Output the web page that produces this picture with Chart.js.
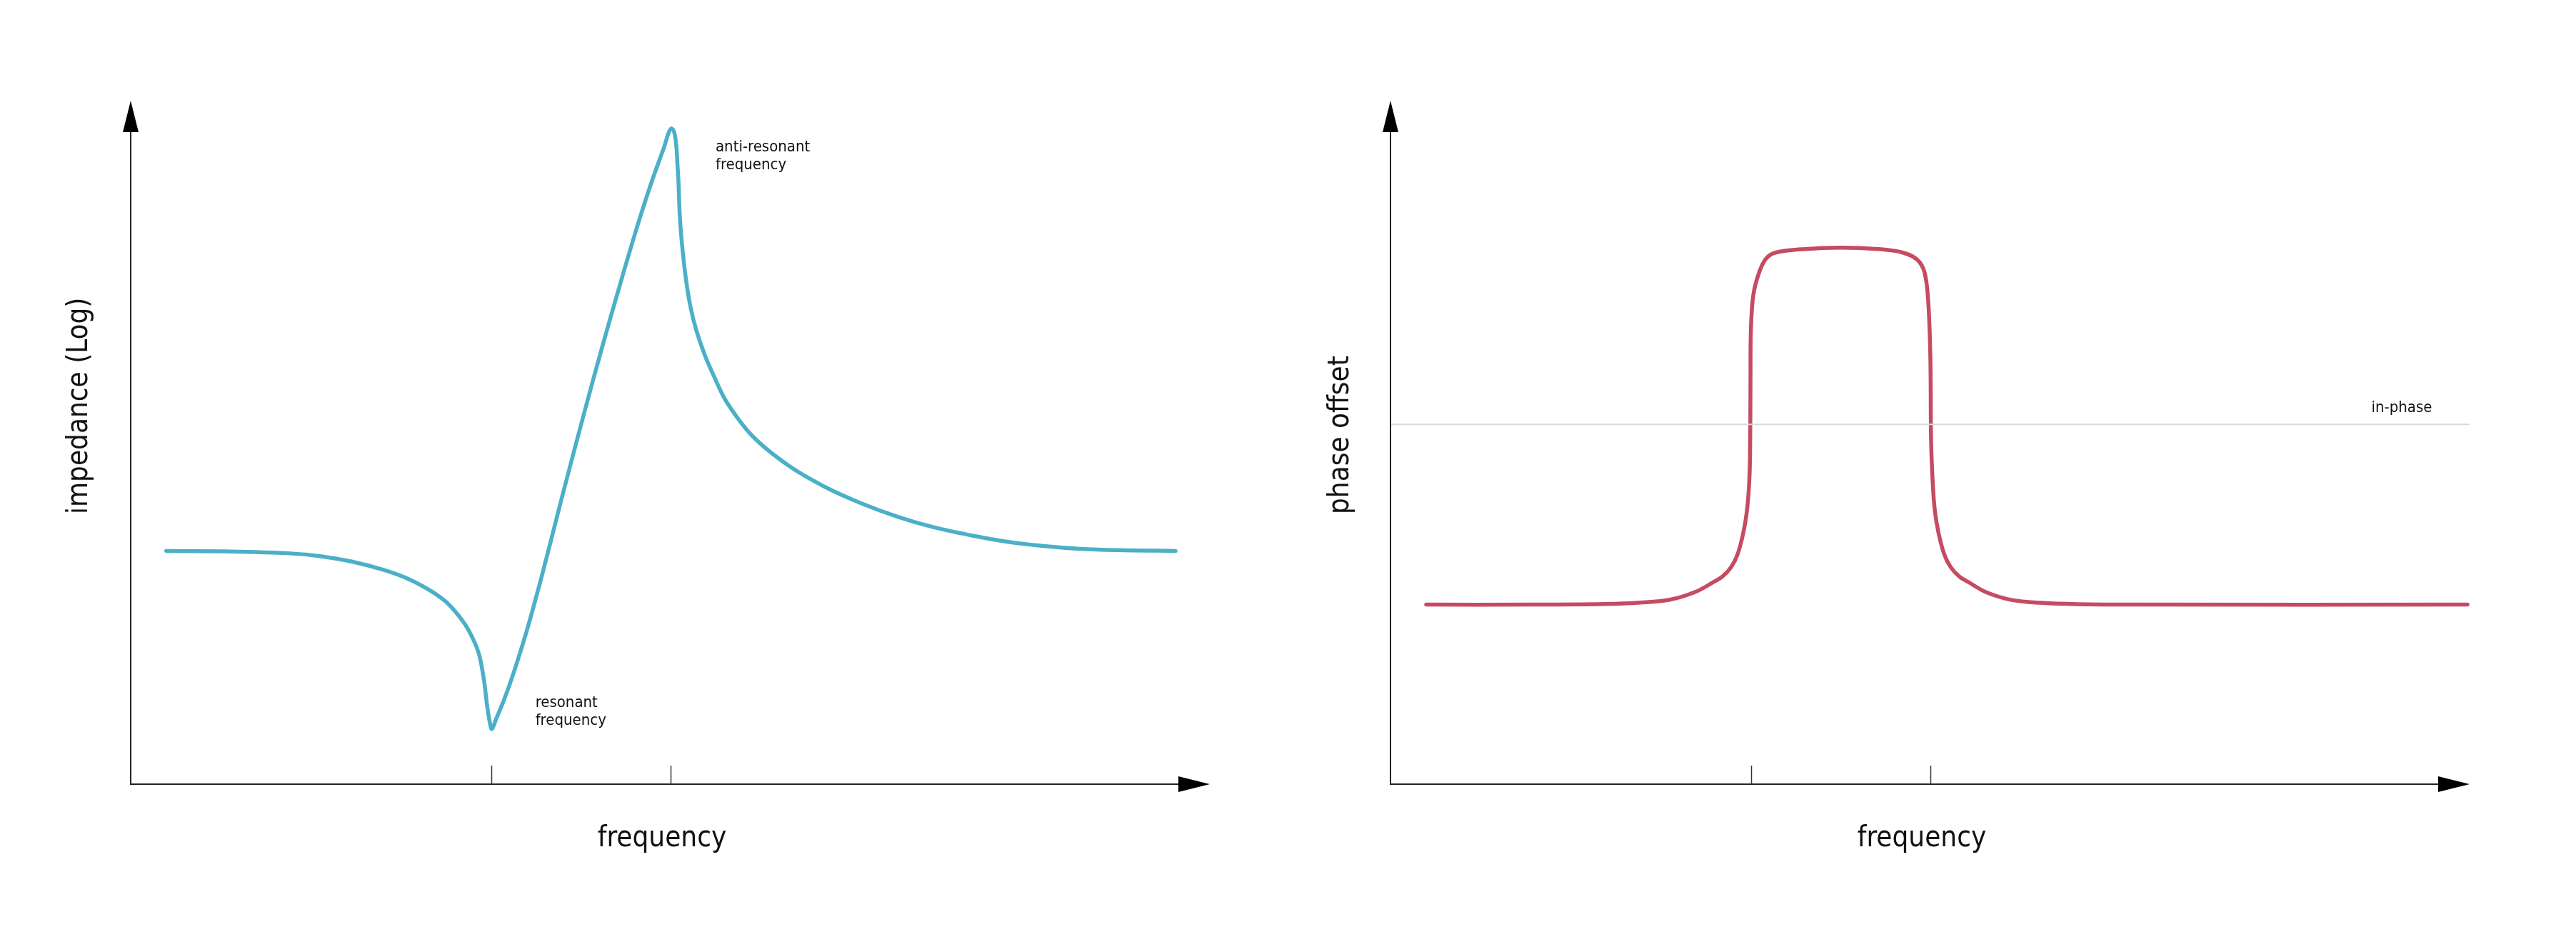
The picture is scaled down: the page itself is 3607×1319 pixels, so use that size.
<!DOCTYPE html>
<html>
<head>
<meta charset="utf-8">
<script src="https://cdn.jsdelivr.net/npm/chart.js@4.4.1/dist/chart.umd.min.js"></script>
<style>
    html, body { margin: 0; padding: 0; background: #fff; }
    .wrap { position: relative; width: 3607px; height: 1319px; }
    canvas { position: absolute; top: 0; }
    #impedance-chart { left: 0; }
    #phase-chart { left: 1803px; }
</style>
</head>
<body>
<div class="wrap">
    <canvas id="impedance-chart" width="1803" height="1319"></canvas>
    <canvas id="phase-chart" width="1804" height="1319"></canvas>
</div>
<script>
// frequency in arbitrary units (0-100 across the axis), values in arbitrary units (0-100)
const impedanceFreq = [
    3.29, 8.67, 11.62, 14.56, 17.54, 20.48, 23.43, 25.81, 27.86, 29.32,
    30.83, 31.7, 32.3, 32.75, 33.02, 33.29, 33.47, 33.88, 34.41, 35.08,
    35.87, 36.86, 38.19, 39.84, 41.83, 43.81, 45.47, 47.12, 48.44, 49.44,
    49.83, 50.1, 50.36, 50.56, 50.66, 50.76, 50.89, 51.16, 51.49, 51.89,
    52.42, 53.21, 54.07, 55.2, 57.58, 60.95, 64.33, 67.7, 71.08, 74.45,
    77.83, 81.2, 84.58, 87.95, 91.33, 96.82
];
const impedanceLog = [
    34.13, 34.06, 33.95, 33.79, 33.37, 32.57, 31.35, 29.97, 28.23, 26.53,
    23.73, 21.33, 18.87, 15.09, 11.58, 8.95, 8.06, 9.6, 11.6, 14.41,
    18.16, 23.31, 31.01, 41.21, 53.17, 64.62, 73.78, 82.52, 88.87, 93.24,
    95.21, 95.94, 95.42, 93.44, 90.84, 88.24, 83.04, 77.84, 73.47, 69.72,
    66.39, 62.75, 59.63, 55.98, 50.99, 46.62, 43.5, 41.1, 39.13, 37.57,
    36.42, 35.48, 34.86, 34.44, 34.24, 34.13
];

const phaseFreq = [
    3.31, 13.04, 19.79, 23.16, 25.88, 28.26, 29.91, 30.77, 31.56, 32.16,
    32.69, 33.02, 33.22, 33.32, 33.36, 33.4, 33.62, 34.15, 34.81, 35.67,
    38.39, 41.76, 45.14, 47.49, 48.84, 49.5, 49.83, 50.03, 50.1, 50.27,
    50.46, 50.79, 51.32, 51.92, 52.71, 53.57, 55.2, 57.58, 60.29, 63.67,
    69.69, 99.8
];
const phaseOffset = [
    26.27, 26.27, 26.36, 26.57, 26.98, 28.13, 29.55, 30.39, 31.74, 33.61,
    36.73, 39.85, 43.5, 48.07, 58.38, 66.6, 71.52, 74.82, 76.9, 77.77,
    78.3, 78.51, 78.3, 77.77, 76.69, 74.82, 70.7, 62.48, 50.16, 43.5,
    39.85, 36.73, 33.61, 31.74, 30.39, 29.55, 28.09, 26.95, 26.53, 26.33,
    26.27, 26.27
];

const inPhaseLevel = 52.65;
const impedanceTicks = [33.4, 50.0];
const phaseTicks = [33.4, 50.0];

const FONT = "'DejaVu Sans Condensed', 'Liberation Sans Narrow', 'DejaVu Sans', sans-serif";
const INK = '#111';

function makeDecor(cfg) {
    return {
        id: 'axisDecor',
        afterDatasetsDraw(chart) {
            const ctx = chart.ctx;
            const area = chart.chartArea;
            const xs = chart.scales.x;
            const ys = chart.scales.y;
            ctx.save();

            // axes
            ctx.strokeStyle = '#222';
            ctx.lineWidth = 2;
            ctx.beginPath();
            ctx.moveTo(area.left, area.top + 20);
            ctx.lineTo(area.left, area.bottom);
            ctx.lineTo(area.right - 20, area.bottom);
            ctx.stroke();

            // arrow heads
            ctx.fillStyle = '#000';
            ctx.beginPath();
            ctx.moveTo(area.left, area.top);
            ctx.lineTo(area.left - 11, area.top + 44);
            ctx.lineTo(area.left + 11, area.top + 44);
            ctx.closePath();
            ctx.fill();
            ctx.beginPath();
            ctx.moveTo(area.right, area.bottom);
            ctx.lineTo(area.right - 44, area.bottom - 11);
            ctx.lineTo(area.right - 44, area.bottom + 11);
            ctx.closePath();
            ctx.fill();

            // tick marks on the frequency axis
            ctx.strokeStyle = '#333';
            ctx.lineWidth = 1.5;
            cfg.ticks.forEach(t => {
                const px = Math.round(xs.getPixelForValue(t)) + 0.5;
                ctx.beginPath();
                ctx.moveTo(px, area.bottom - 26);
                ctx.lineTo(px, area.bottom);
                ctx.stroke();
            });

            // annotations
            ctx.fillStyle = INK;
            ctx.font = `22px ${FONT}`;
            ctx.textBaseline = 'alphabetic';
            ctx.textAlign = 'left';
            cfg.notes.forEach(n => {
                const px = xs.getPixelForValue(n.x);
                const py = ys.getPixelForValue(n.y);
                n.lines.forEach((line, i) => ctx.fillText(line, px, py + i * 25));
            });

            // axis titles
            ctx.font = `40px ${FONT}`;
            ctx.textAlign = 'center';
            ctx.fillText(cfg.xTitle, cfg.xTitleX, 1185);

            ctx.save();
            ctx.translate(cfg.yTitleX, 720);
            ctx.rotate(-Math.PI / 2);
            ctx.textAlign = 'left';
            ctx.fillText(cfg.yTitle, 0, 0);
            ctx.restore();

            ctx.restore();
        }
    };
}

function lineChart(canvasId, freq, values, color, padding, decor, extraSets) {
    const datasets = (extraSets || []).concat([{
        data: freq.map((f, i) => ({ x: f, y: values[i] })),
        borderColor: color,
        borderWidth: 5.5,
        pointRadius: 0,
        tension: 0.35,
        borderCapStyle: 'round',
        borderJoinStyle: 'round',
        clip: false
    }]);
    return new Chart(document.getElementById(canvasId), {
        type: 'line',
        data: { datasets: datasets },
        options: {
            responsive: false,
            devicePixelRatio: 1,
            animation: false,
            layout: { padding: padding },
            scales: {
                x: { type: 'linear', min: 0, max: 100, display: false },
                y: { type: 'linear', min: 0, max: 100, display: false }
            },
            plugins: {
                legend: { display: false },
                tooltip: { enabled: false }
            }
        },
        plugins: [decor]
    });
}

lineChart('impedance-chart', impedanceFreq, impedanceLog, 'rgb(75, 176, 199)',
    { left: 183, top: 141, right: 109, bottom: 221 },
    makeDecor({
        ticks: impedanceTicks,
        xTitle: 'frequency', xTitleX: 927,
        yTitle: 'impedance (Log)', yTitleX: 122,
        notes: [
            { x: 54.2, y: 92.6, lines: ['anti-resonant', 'frequency'] },
            { x: 37.5, y: 11.3, lines: ['resonant', 'frequency'] }
        ]
    }));

lineChart('phase-chart', phaseFreq, phaseOffset, 'rgb(199, 75, 96)',
    { left: 144, top: 141, right: 149, bottom: 221 },
    makeDecor({
        ticks: phaseTicks,
        xTitle: 'frequency', xTitleX: 888,
        yTitle: 'phase offset', yTitleX: 85,
        notes: [
            { x: 90.9, y: 54.4, lines: ['in-phase'] }
        ]
    }),
    [{
        data: [{ x: 0, y: inPhaseLevel }, { x: 100, y: inPhaseLevel }],
        borderColor: '#d9d9d9',
        borderWidth: 2,
        pointRadius: 0
    }]);
</script>
</body>
</html>
